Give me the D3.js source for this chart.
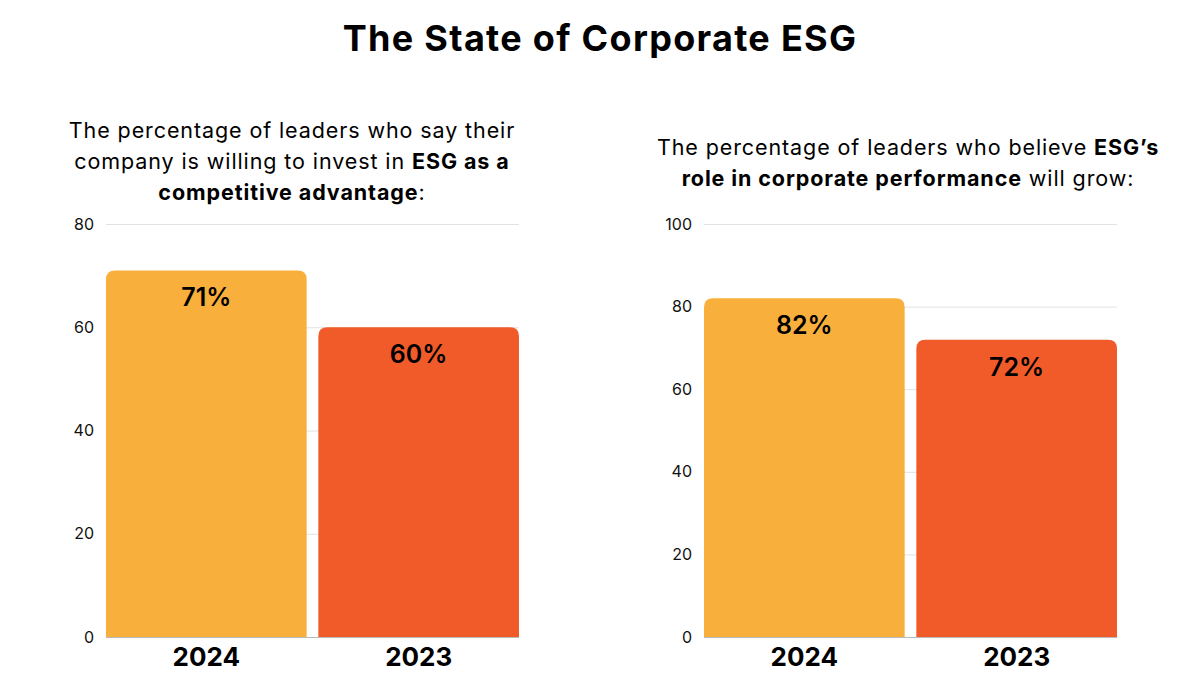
<!DOCTYPE html>
<html>
<head>
<meta charset="utf-8">
<script src="https://cdn.jsdelivr.net/npm/d3@7"></script>
<style>
  html, body { margin: 0; padding: 0; background: #ffffff; }
  svg { display: block; font-family: Inter, "Noto Sans", sans-serif; }
</style>
</head>
<body>
<svg id="chart" width="1200" height="700"></svg>
<script>
// ---- data ----
const title = "The State of Corporate ESG";
const categories = ["2024", "2023"];
const leftValues = [71, 60];
const rightValues = [82, 72];
const leftTicks = [0, 20, 40, 60, 80];
const rightTicks = [0, 20, 40, 60, 80, 100];
const leftSubtitle = [
  [["The percentage of leaders who say their", false]],
  [["company is willing to invest in ", false], ["ESG as a", true]],
  [["competitive advantage", true], [":", false]]
];
const rightSubtitle = [
  [["The percentage of leaders who believe ", false], ["ESG\u2019s", true]],
  [["role in corporate performance", true], [" will grow:", false]]
];
const barColors = ["#F9AF3B", "#F15A29"];

// ---- drawing ----
const svg = d3.select("#chart");

svg.append("text")
  .attr("x", 600).attr("y", 51)
  .attr("text-anchor", "middle")
  .attr("font-size", 36).attr("font-weight", 700)
  .attr("letter-spacing", 1.3)
  .attr("fill", "#000")
  .text(title);

function drawPanel(cfg) {
  const x = d3.scaleBand().domain(categories).range([cfg.x0, cfg.x1]).paddingInner(0.055).paddingOuter(0);
  const y = d3.scaleLinear().domain([0, cfg.max]).range([637, 224]);
  const g = svg.append("g");

  // subtitle
  const sub = g.append("text")
    .attr("text-anchor", "middle")
    .attr("font-size", 21.5).attr("letter-spacing", 0.9).attr("fill", "#000");
  cfg.subtitle.forEach((line, i) => {
    line.forEach((seg, j) => {
      const t = sub.append("tspan").text(seg[0]).attr("font-weight", seg[1] ? 700 : 400);
      if (j === 0) t.attr("x", cfg.subX).attr("y", cfg.subY + i * 31);
    });
  });

  // gridlines
  g.append("g").selectAll("line").data(cfg.ticks).join("line")
    .attr("x1", cfg.x0).attr("x2", cfg.x1)
    .attr("y1", d => y(d) + 0.5).attr("y2", d => y(d) + 0.5)
    .attr("stroke", d => d === 0 ? "#b9b9b9" : "#e2e2e2").attr("stroke-width", 1);

  // y axis tick labels
  const yAxis = d3.axisLeft(y).tickValues(cfg.ticks).tickSize(0).tickPadding(12);
  const ya = g.append("g").attr("transform", `translate(${cfg.x0},0)`).call(yAxis);
  ya.select(".domain").remove();
  ya.selectAll("text").attr("font-size", 16).attr("font-family", "Inter, sans-serif").attr("fill", "#111");

  // bars with rounded top corners
  const r = 9;
  g.append("g").selectAll("path").data(cfg.values).join("path")
    .attr("fill", (d, i) => barColors[i])
    .attr("d", (d, i) => {
      const bx = x(categories[i]), bw = x.bandwidth();
      const top = y(d), bot = y(0);
      return `M${bx},${bot}V${top + r}Q${bx},${top} ${bx + r},${top}H${bx + bw - r}Q${bx + bw},${top} ${bx + bw},${top + r}V${bot}Z`;
    });

  // value labels
  g.append("g").selectAll("text").data(cfg.values).join("text")
    .attr("x", (d, i) => x(categories[i]) + x.bandwidth() / 2)
    .attr("y", d => y(d) + 36)
    .attr("text-anchor", "middle")
    .attr("font-size", 25).attr("font-weight", 600)
    .attr("fill", "#000")
    .text(d => d + "%");

  // x axis labels
  const xAxis = d3.axisBottom(x).tickSize(0).tickPadding(11);
  const xa = g.append("g").attr("transform", `translate(0,637)`).call(xAxis);
  xa.select(".domain").remove();
  xa.selectAll("text").attr("font-size", 26).attr("font-weight", 700)
    .attr("font-family", "Inter, sans-serif").attr("fill", "#000");
}

drawPanel({ x0: 106, x1: 519, max: 80, values: leftValues, ticks: leftTicks, subtitle: leftSubtitle, subX: 292, subY: 138 });
drawPanel({ x0: 704, x1: 1117, max: 100, values: rightValues, ticks: rightTicks, subtitle: rightSubtitle, subX: 908, subY: 155 });
</script>
</body>
</html>
